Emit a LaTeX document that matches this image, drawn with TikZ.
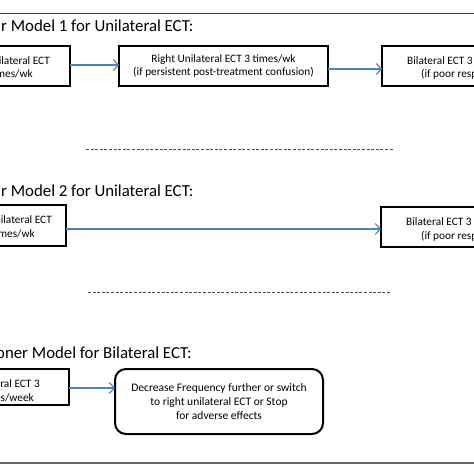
\documentclass[tikz,border=0pt]{standalone}
\usepackage{fontspec}
\setmainfont{Carlito}
\usetikzlibrary{arrows.meta,calc}
\definecolor{arrblue}{RGB}{79,129,189}
\begin{document}
\begin{tikzpicture}[x=1pt,y=-1pt,
  boxbase/.style={draw=black, line width=2pt, inner sep=0pt, outer sep=0pt, align=center,
    font=\fontsize{11.3}{13.5}\selectfont},
  txt/.style={inner sep=0pt, font=\fontsize{11.3}{13.5}\selectfont},
  title/.style={inner sep=0pt, anchor=base west, font=\fontsize{16.8}{19}\selectfont},
  arr/.style={draw=arrblue, line width=1.1pt, -{Straight Barb[length=5pt,width=11pt,line width=1.1pt]}},
  sep/.style={draw=black!70, line width=0.7pt, dash pattern=on 3pt off 1.6pt}]
\useasboundingbox (0,0) rectangle (474,474);
\clip (0,0) rectangle (474,474);
\fill[white] (0,0) rectangle (474,474);

% frame lines
\coordinate (tl) at (0,13);
\coordinate (tr) at (474,13);
\draw[black!75, line width=0.9pt] (tl) -- (tr);
\coordinate (bl) at (0,463);
\coordinate (br) at (474,463);
\draw[black!60, line width=1.6pt] (bl) -- (br);

% ---------- Model 1 ----------
\node[title] (t1) at (1,31) {r Model 1 for Unilateral ECT:};

\node[boxbase, minimum width=100pt, minimum height=40pt] (A) at (20,66) {};
\node[txt, anchor=base east] (A1) at (50,64) {Unilateral ECT};
\node[txt, anchor=base east] (A2) at (33,77) {times/wk};

\node[boxbase, minimum width=209pt, minimum height=40pt] (B) at (223.5,66)
  {Right Unilateral ECT 3 times/wk\\(if persistent post-treatment confusion)};

\node[boxbase, minimum width=158pt, minimum height=40pt] (C) at (461,66) {};
\node[txt, anchor=base west] (C1) at (407,64) {Bilateral ECT 3 times/wk};
\node[txt, anchor=base west] (C2) at (421,77) {(if poor response)};

\draw[arr] ([yshift=1pt]A.east) -- ([yshift=1pt]B.west);
\draw[arr] ([yshift=-3pt]B.east) -- ([yshift=-3pt]C.west);

\coordinate (d1a) at (86,149);
\coordinate (d1b) at (393,149);
\draw[sep] (d1a) -- (d1b);

% ---------- Model 2 ----------
\node[title] (t2) at (1,196) {r Model 2 for Unilateral ECT:};

\node[boxbase, minimum width=96pt, minimum height=41pt] (D) at (18,225.5) {};
\node[txt, anchor=base east] (D1) at (52,223) {Unilateral ECT};
\node[txt, anchor=base east] (D2) at (35,237) {times/wk};

\node[boxbase, minimum width=160pt, minimum height=40pt] (E) at (461,227) {};
\node[txt, anchor=base west] (E1) at (406,225) {Bilateral ECT 3 times/wk};
\node[txt, anchor=base west] (E2) at (421,239) {(if poor response)};

\draw[arr] ([yshift=-3.5pt]D.east) -- ([yshift=-3.5pt]D.east -| E.west);

\coordinate (d2a) at (88,292);
\coordinate (d2b) at (391,292);
\draw[sep] (d2a) -- (d2b);

% ---------- Bilateral model ----------
\node[title] (t3) at (-4,358) {oner Model for Bilateral ECT:};

\node[boxbase, minimum width=99pt, minimum height=36pt] (F) at (19.5,387) {};
\node[txt, anchor=base east] (F1) at (40,387) {Bilateral ECT 3};
\node[txt, anchor=base east] (F2) at (34,401) {times/week};

\node[boxbase, rounded corners=11pt, minimum width=208pt, minimum height=65pt,
  font=\fontsize{11.5}{14}\selectfont] (G) at (219,401.5)
  {Decrease Frequency further or switch\\to right unilateral ECT or Stop\\for adverse effects};

\draw[arr] ([yshift=-1pt]F.east) -- ([yshift=-1pt]F.east -| G.west);
\end{tikzpicture}
\end{document}
